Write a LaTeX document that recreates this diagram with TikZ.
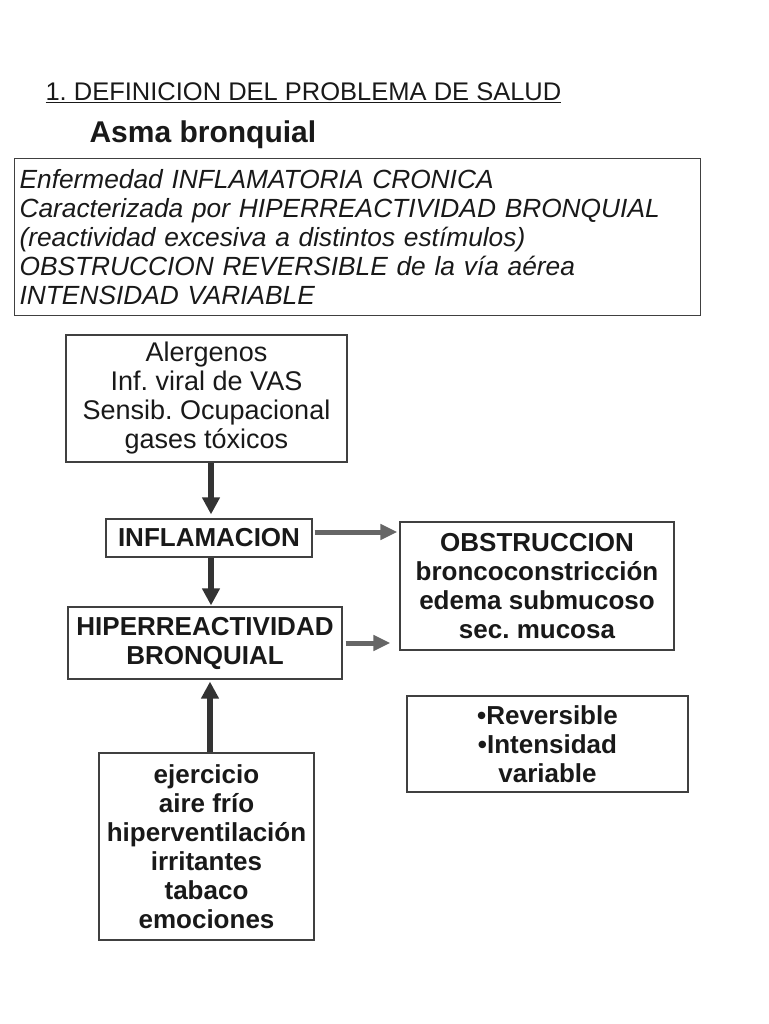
\documentclass[tikz,border=0pt]{standalone}
\usepackage{fontspec}
\setmainfont{Liberation Sans}
\usetikzlibrary{arrows.meta}
\frenchspacing

\begin{document}
\begin{tikzpicture}[x=1pt,y=-1pt,
  every node/.style={align=center,text=black!90},
  box/.style={draw=black!75,line width=1.2pt,inner sep=0pt},
  flowtext/.style={font=\fontsize{26}{29}\selectfont\bfseries},
  vflow/.style={line width=6pt,draw=black!80,-{Triangle[length=17pt,width=17pt]}},
  hflow/.style={line width=5pt,draw=black!60,-{Triangle[length=17pt,width=15pt]}}]

\useasboundingbox (0,0) rectangle (768,1024);

%heading
  \node[anchor=base west,font=\fontsize{25.5}{29}\selectfont] (title) at (42,101) {\underline{1. DEFINICION DEL PROBLEMA DE SALUD}};
  \node[anchor=base west,font=\fontsize{30}{34}\selectfont\bfseries] (asma) at (86,143) {Asma bronquial};

%definition box
  \node[box,anchor=north west,minimum width=686pt,minimum height=157pt,
    text width=676pt,align=left,inner xsep=5pt,
    font=\fontsize{26.3}{29}\selectfont\itshape] (defin) at (14,158)
    {Enfermedad INFLAMATORIA CRONICA\\
     Caracterizada por HIPERREACTIVIDAD BRONQUIAL\\
     (reactividad excesiva a distintos estímulos)\\
     OBSTRUCCION REVERSIBLE de la vía aérea\\
     INTENSIDAD VARIABLE};

%flow boxes
  \node[box,minimum width=281pt,minimum height=127pt,font=\fontsize{27}{29}\selectfont] (alerg) at (206.5,398.5)
    {Alergenos\\Inf. viral de VAS\\Sensib. Ocupacional\\gases tóxicos};
  \node[box,flowtext,minimum width=206pt,minimum height=38pt] (inflam) at (209,538) {INFLAMACION};
  \node[box,flowtext,minimum width=274pt,minimum height=72pt] (hiper) at (205,643) {HIPERREACTIVIDAD\\BRONQUIAL};
  \node[box,flowtext,minimum width=274pt,minimum height=128pt] (obstr) at (537,586)
    {OBSTRUCCION\\broncoconstricción\\edema submucoso\\sec. mucosa};
  \node[box,flowtext,minimum width=281pt,minimum height=96pt] (revers) at (547.5,744)
    {•Reversible\\•Intensidad\\variable};
  \node[box,flowtext,minimum width=215pt,minimum height=187pt] (ejerc) at (206.5,846.5)
    {ejercicio\\aire frío\\hiperventilación\\irritantes\\tabaco\\emociones};

%draw arrows
  \draw[vflow,shorten >=4pt] ([xshift=4.5pt]alerg.south) -- ([xshift=4.5pt]alerg.south |- inflam.north);
  \draw[vflow,shorten >=1pt] ([xshift=2pt]inflam.south) -- ([xshift=2pt]inflam.south |- hiper.north);
  \draw[vflow,shorten >=2pt] ([xshift=3.5pt]ejerc.north) -- ([xshift=3.5pt]ejerc.north |- hiper.south);
  \draw[hflow,shorten <=2pt,shorten >=2pt] ([yshift=6pt]inflam.east) -- ([yshift=6pt]inflam.east -| obstr.west);
  \draw[hflow,shorten <=3pt,shorten >=9pt] (hiper.east) -- (hiper.east -| obstr.west);

\end{tikzpicture}
\end{document}
